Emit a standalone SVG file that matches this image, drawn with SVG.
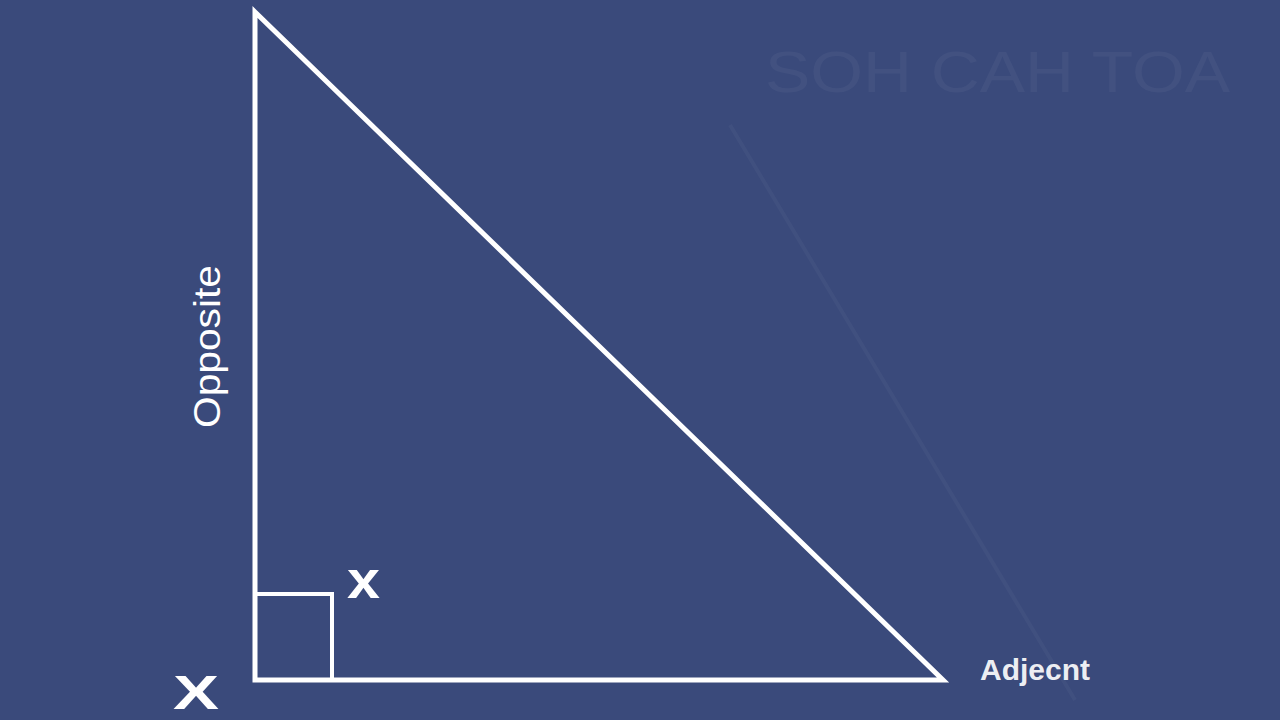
<svg xmlns="http://www.w3.org/2000/svg" width="1280" height="720" viewBox="0 0 1280 720">
<style>
.edge{fill:none;stroke:#ffffff;stroke-width:5;stroke-linejoin:miter;stroke-linecap:square}
.lbl{fill:#ffffff;font-family:"Liberation Sans",Arial,sans-serif}
.faint{fill:#ffffff;fill-opacity:0.045;font-family:"Liberation Sans",Arial,sans-serif}
</style>
<rect width="1280" height="720" fill="#3a4a7b"/>
<text class="faint" x="765" y="92" font-size="58" textLength="465" lengthAdjust="spacingAndGlyphs">SOH CAH TOA</text>
<line x1="730" y1="125" x2="1075" y2="700" stroke="#ffffff" stroke-opacity="0.035" stroke-width="4"/>
<g id="connectors">
<polygon class="edge" points="255,12 943,680 255,680"/>
<rect class="edge" x="255" y="594" width="77" height="86" style="stroke-width:4"/>
</g>
<g id="opposite">
<text class="lbl" transform="translate(220,428) rotate(-90)" font-size="36" textLength="163" lengthAdjust="spacingAndGlyphs">Opposite</text>
</g>
<g id="angle-x">
<text class="lbl" x="347" y="598" font-size="54" font-weight="bold" textLength="33" lengthAdjust="spacingAndGlyphs">x</text>
</g>
<g id="vertex-x">
<text class="lbl" x="173" y="709" font-size="48" font-weight="bold" textLength="46" lengthAdjust="spacingAndGlyphs">X</text>
</g>
<g id="adjacent">
<text class="lbl" x="980" y="680" font-size="29" font-weight="bold" textLength="110" lengthAdjust="spacingAndGlyphs" fill-opacity="0.92">Adjecnt</text>
</g>
</svg>
